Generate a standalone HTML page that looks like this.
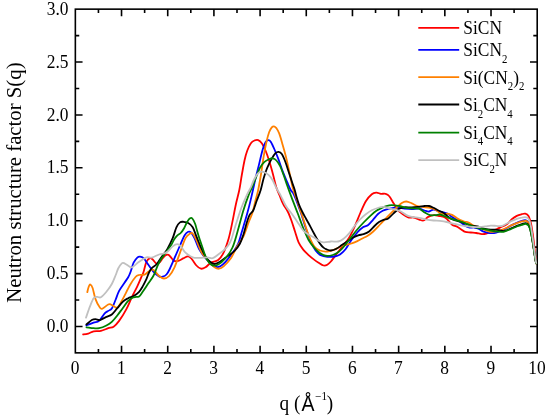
<!DOCTYPE html>
<html lang="en"><head><meta charset="utf-8"><title>Neutron structure factor S(q)</title>
<style>html,body{margin:0;padding:0;background:#fff}svg{display:block}</style></head>
<body>
<svg width="550" height="418" viewBox="0 0 550 418">
<rect width="550" height="418" fill="#fff"/>
<g stroke="#000" stroke-width="1.60" fill="none" stroke-linecap="butt">
<rect x="75.35" y="9.15" width="461.85" height="343.70"/>
<path d="M98.44 352.85v-3.90M98.44 9.15v3.90M121.53 352.85v-7.20M121.53 9.15v7.20M144.63 352.85v-3.90M144.63 9.15v3.90M167.72 352.85v-7.20M167.72 9.15v7.20M190.81 352.85v-3.90M190.81 9.15v3.90M213.91 352.85v-7.20M213.91 9.15v7.20M237.00 352.85v-3.90M237.00 9.15v3.90M260.09 352.85v-7.20M260.09 9.15v7.20M283.18 352.85v-3.90M283.18 9.15v3.90M306.27 352.85v-7.20M306.27 9.15v7.20M329.37 352.85v-3.90M329.37 9.15v3.90M352.46 352.85v-7.20M352.46 9.15v7.20M375.55 352.85v-3.90M375.55 9.15v3.90M398.64 352.85v-7.20M398.64 9.15v7.20M421.74 352.85v-3.90M421.74 9.15v3.90M444.83 352.85v-7.20M444.83 9.15v7.20M467.92 352.85v-3.90M467.92 9.15v3.90M491.02 352.85v-7.20M491.02 9.15v7.20M514.11 352.85v-3.90M514.11 9.15v3.90M75.35 326.50h7.20M537.20 326.50h-7.20M75.35 300.05h3.90M537.20 300.05h-3.90M75.35 273.61h7.20M537.20 273.61h-7.20M75.35 247.16h3.90M537.20 247.16h-3.90M75.35 220.72h7.20M537.20 220.72h-7.20M75.35 194.27h3.90M537.20 194.27h-3.90M75.35 167.82h7.20M537.20 167.82h-7.20M75.35 141.38h3.90M537.20 141.38h-3.90M75.35 114.93h7.20M537.20 114.93h-7.20M75.35 88.49h3.90M537.20 88.49h-3.90M75.35 62.04h7.20M537.20 62.04h-7.20M75.35 35.60h3.90M537.20 35.60h-3.90"/>
</g>
<g fill="none" stroke-width="1.8" stroke-linejoin="round" stroke-linecap="round">
<path stroke="#ff0000" d="M83.1 334.5C83.9 334.4 86.5 334.1 88.2 333.6C90.0 333.1 91.5 331.8 93.6 331.3C95.7 330.9 98.5 331.4 100.9 330.9C103.3 330.4 106.1 328.9 108.2 328.2C110.3 327.5 111.8 327.9 113.6 326.7C115.4 325.5 117.0 323.8 119.1 320.9C121.2 318.0 124.3 313.0 126.4 309.1C128.5 305.2 130.0 301.1 131.8 297.3C133.6 293.5 135.6 289.9 137.3 286.4C139.0 282.8 140.8 278.4 141.8 276.0C142.9 273.6 142.8 274.2 143.6 271.8C144.4 269.4 145.3 264.1 146.4 261.8C147.5 259.5 148.9 258.6 150.0 258.2C151.1 257.8 151.6 258.6 152.7 259.5C153.8 260.4 155.2 263.2 156.4 263.6C157.6 264.0 159.0 262.9 160.0 262.0C161.0 261.1 161.6 259.6 162.5 258.5C163.4 257.4 164.3 256.0 165.3 255.4C166.3 254.8 167.5 254.4 168.6 254.9C169.7 255.4 171.0 257.5 171.9 258.5C172.8 259.5 172.9 260.4 174.0 260.8C175.1 261.2 176.6 261.3 178.2 260.9C179.8 260.5 181.9 258.9 183.6 258.2C185.3 257.4 186.8 256.2 188.2 256.4C189.6 256.5 190.4 257.6 191.8 259.1C193.2 260.6 194.9 263.9 196.4 265.5C197.9 267.1 199.4 268.4 200.9 268.7C202.4 269.0 203.8 268.3 205.5 267.3C207.2 266.3 208.8 263.9 210.9 262.7C213.0 261.5 216.1 261.7 218.2 260.0C220.3 258.3 221.9 256.2 223.6 252.7C225.3 249.1 227.1 243.8 228.6 238.7C230.1 233.6 231.1 228.2 232.3 222.4C233.5 216.7 234.7 209.6 235.9 204.2C237.1 198.8 238.3 194.9 239.3 190.0C240.3 185.1 240.9 179.9 241.8 175.0C242.7 170.1 243.6 164.6 244.5 160.5C245.4 156.4 246.2 153.4 247.3 150.5C248.4 147.6 249.7 144.9 250.9 143.2C252.1 141.5 253.3 141.0 254.5 140.5C255.7 140.0 257.0 139.7 258.2 140.1C259.4 140.5 260.6 141.5 261.8 143.2C263.0 144.9 264.3 147.6 265.5 150.5C266.7 153.4 267.9 156.7 269.1 160.5C270.3 164.3 271.5 168.8 272.7 173.2C273.9 177.6 275.1 183.3 276.2 187.0C277.3 190.7 278.3 192.2 279.5 195.1C280.7 198.0 281.8 201.5 283.2 204.2C284.6 206.9 286.3 208.8 287.7 211.5C289.1 214.2 290.2 217.2 291.4 220.5C292.6 223.8 293.8 227.8 295.0 231.5C296.2 235.2 297.2 239.4 298.6 242.4C300.0 245.4 301.5 247.5 303.2 249.6C304.9 251.7 306.8 253.4 308.6 255.1C310.4 256.8 312.5 258.4 314.1 259.6C315.7 260.8 316.6 261.4 318.2 262.4C319.8 263.4 322.1 265.1 323.6 265.5C325.1 265.9 326.1 265.4 327.3 264.7C328.5 264.0 329.4 263.2 330.9 261.5C332.4 259.8 334.3 256.9 336.4 254.2C338.5 251.5 341.5 247.8 343.6 245.1C345.7 242.4 347.3 240.8 349.1 237.8C350.9 234.8 352.6 231.1 354.5 226.9C356.4 222.7 358.6 216.8 360.5 212.5C362.4 208.2 364.1 204.1 366.0 201.0C367.9 197.9 370.1 195.6 371.8 194.2C373.5 192.8 374.9 192.8 376.4 192.7C377.9 192.6 379.4 193.6 380.9 193.8C382.4 194.0 384.1 193.4 385.5 193.8C386.9 194.2 387.8 194.4 389.1 196.0C390.5 197.6 392.2 201.0 393.6 203.3C395.0 205.6 395.8 207.8 397.3 209.6C398.8 211.4 400.9 212.9 402.7 214.2C404.5 215.5 406.4 216.9 408.2 217.5C410.0 218.1 411.8 217.2 413.6 217.5C415.4 217.8 417.4 219.1 419.1 219.6C420.8 220.1 422.1 220.9 423.6 220.5C425.1 220.1 426.5 217.8 428.2 216.9C429.9 216.0 431.8 215.2 433.6 215.1C435.4 214.9 437.3 215.7 439.1 216.0C440.9 216.3 443.0 216.5 444.4 217.1C445.8 217.7 446.4 218.5 447.7 219.8C449.0 221.1 450.6 223.7 452.1 224.8C453.6 225.9 455.0 225.7 456.5 226.4C458.0 227.1 459.4 228.3 460.9 229.2C462.4 230.1 463.6 231.3 465.3 231.9C467.0 232.5 469.0 232.3 470.8 232.5C472.6 232.7 474.5 232.7 476.3 233.0C478.1 233.3 480.2 234.0 481.9 234.1C483.6 234.2 484.8 234.0 486.3 233.6C487.8 233.2 489.2 232.6 490.7 231.9C492.2 231.2 493.6 230.4 495.1 229.7C496.7 229.0 498.1 228.5 500.0 227.6C501.9 226.7 504.8 225.7 506.8 224.3C508.8 222.9 510.1 220.7 511.8 219.3C513.5 217.9 515.1 216.8 516.8 215.9C518.5 215.1 520.4 214.6 521.8 214.2C523.2 213.8 524.1 213.4 525.2 213.7C526.3 214.0 527.5 214.3 528.5 215.9C529.5 217.5 530.3 220.6 531.0 223.5C531.7 226.4 532.1 229.6 532.7 233.5C533.3 237.4 533.9 242.7 534.4 246.9C534.9 251.1 535.3 255.9 535.6 258.6C535.9 261.3 536.1 262.3 536.2 263.0"/>
<path stroke="#0000ff" d="M86.4 325.5C87.6 325.0 91.5 323.5 93.6 322.7C95.7 321.9 97.3 322.4 99.1 320.9C100.9 319.4 103.0 315.3 104.5 313.6C106.0 311.9 107.0 311.8 108.2 310.9C109.4 310.0 110.6 310.3 111.8 308.5C113.0 306.7 114.3 302.9 115.5 300.0C116.7 297.1 117.6 293.8 119.1 290.9C120.6 288.0 123.0 285.0 124.5 282.7C126.0 280.4 127.1 279.2 128.2 277.3C129.3 275.4 130.0 273.4 130.9 271.0C131.8 268.6 132.5 264.9 133.6 262.7C134.7 260.5 136.2 258.6 137.3 257.6C138.4 256.6 138.9 256.6 140.0 256.7C141.1 256.8 142.2 256.9 143.6 258.2C145.0 259.5 146.5 262.2 148.2 264.5C149.9 266.8 151.8 269.8 153.6 271.8C155.4 273.8 157.6 275.6 159.1 276.4C160.6 277.2 161.5 277.0 162.7 276.7C163.9 276.4 165.4 275.7 166.5 274.5C167.6 273.3 168.2 272.2 169.5 269.5C170.8 266.8 172.8 262.2 174.5 258.2C176.2 254.2 178.3 249.3 180.0 245.5C181.7 241.7 183.1 237.8 184.5 235.5C185.9 233.2 187.1 232.3 188.2 231.8C189.3 231.3 189.8 231.3 190.9 232.4C192.0 233.5 193.1 235.4 194.5 238.2C195.9 241.0 197.3 245.8 199.1 249.1C200.9 252.4 203.5 255.8 205.5 258.2C207.5 260.6 209.1 262.2 210.9 263.6C212.7 265.1 214.9 266.4 216.4 266.9C217.9 267.4 218.5 267.2 220.0 266.4C221.5 265.5 223.4 264.1 225.5 261.8C227.6 259.5 230.6 255.7 232.7 252.7C234.8 249.7 236.8 246.8 238.2 243.6C239.6 240.4 240.0 238.1 241.4 233.3C242.8 228.6 245.1 221.2 246.8 215.1C248.5 209.0 250.0 203.0 251.4 196.9C252.8 190.8 254.2 184.1 255.5 178.6C256.8 173.1 257.9 168.9 259.1 164.1C260.3 159.2 261.6 153.1 262.7 149.5C263.8 145.9 264.6 143.9 265.5 142.3C266.4 140.7 267.3 140.2 268.2 140.1C269.1 140.0 269.8 140.3 270.9 141.9C271.9 143.5 273.3 146.7 274.5 149.5C275.7 152.3 276.8 154.9 278.2 158.6C279.6 162.2 281.2 167.4 282.7 171.4C284.2 175.4 286.0 179.2 287.3 182.3C288.6 185.4 289.6 187.9 290.7 190.0C291.8 192.1 292.5 191.4 294.1 195.1C295.8 198.8 298.6 206.4 300.6 212.0C302.6 217.6 304.3 223.8 306.0 228.7C307.7 233.6 309.0 237.5 310.6 241.2C312.2 244.8 313.9 248.2 315.6 250.6C317.3 252.9 318.9 254.3 320.8 255.3C322.8 256.3 325.0 256.6 327.3 256.8C329.6 257.0 332.4 256.9 334.5 256.5C336.6 256.1 338.2 255.6 340.0 254.4C341.8 253.2 343.7 251.6 345.5 249.3C347.3 247.0 348.9 243.7 350.9 240.8C352.9 237.9 355.6 234.3 357.7 232.0C359.8 229.7 361.6 228.2 363.3 227.0C365.1 225.8 366.6 226.2 368.2 225.0C369.8 223.8 371.4 221.6 373.0 219.8C374.6 218.0 376.4 215.5 378.0 214.0C379.6 212.5 381.0 211.7 382.7 210.8C384.4 210.0 386.5 209.4 388.3 208.9C390.1 208.4 391.8 208.0 393.6 207.8C395.4 207.6 397.3 207.7 399.1 207.8C400.9 208.0 402.4 208.5 404.5 208.7C406.6 208.9 409.4 209.1 411.8 209.1C414.2 209.1 417.0 208.5 419.1 208.7C421.2 208.9 422.8 210.0 424.5 210.5C426.2 211.0 427.6 211.7 429.1 211.5C430.6 211.3 431.9 209.6 433.6 209.6C435.3 209.6 437.3 210.8 439.1 211.3C440.9 211.8 442.8 212.2 444.4 212.7C446.0 213.2 447.5 213.6 448.8 214.3C450.1 215.0 450.8 216.2 452.1 217.1C453.4 218.0 455.0 218.9 456.5 219.8C458.0 220.7 459.4 221.6 460.9 222.6C462.4 223.6 463.8 225.1 465.3 225.9C466.8 226.7 468.2 227.2 469.7 227.5C471.2 227.8 472.6 227.3 474.1 227.5C475.6 227.7 477.0 227.9 478.5 228.6C480.0 229.2 481.5 230.8 483.0 231.4C484.5 232.1 485.9 232.2 487.4 232.5C488.9 232.8 490.3 233.0 491.8 233.0C493.3 233.0 494.8 232.8 496.2 232.5C497.6 232.2 498.5 232.0 500.0 231.4C501.5 230.8 503.1 230.1 505.1 229.0C507.1 227.9 509.9 226.1 511.8 225.1C513.8 224.1 515.1 223.5 516.8 222.8C518.5 222.1 520.3 221.2 521.8 220.8C523.3 220.4 524.8 220.0 526.0 220.4C527.2 220.8 528.1 221.3 528.9 223.0C529.7 224.7 530.3 226.9 531.0 230.5C531.7 234.1 532.5 239.9 533.2 244.5C533.9 249.1 534.7 255.2 535.2 258.3C535.7 261.4 536.0 262.5 536.2 263.3"/>
<path stroke="#ff8000" d="M87.3 292.2C87.5 291.2 88.3 287.8 88.8 286.5C89.3 285.2 89.8 284.2 90.4 284.5C91.1 284.8 91.9 285.8 92.7 288.2C93.5 290.6 94.3 295.8 95.5 299.1C96.7 302.4 98.8 306.2 100.0 307.8C101.2 309.4 101.3 309.1 102.7 308.5C104.1 307.9 106.8 305.2 108.2 304.5C109.6 303.8 109.7 304.0 110.9 304.5C112.1 305.0 114.3 306.9 115.5 307.3C116.7 307.7 117.0 308.3 118.2 306.9C119.4 305.5 120.7 302.8 122.7 299.1C124.7 295.5 127.9 288.7 130.0 285.0C132.1 281.3 134.0 278.7 135.5 277.0C137.0 275.3 137.6 275.4 139.1 275.0C140.6 274.6 142.7 275.4 144.5 274.6C146.3 273.9 148.5 271.3 150.0 270.5C151.5 269.7 152.1 269.1 153.6 270.0C155.1 270.9 157.4 274.6 159.1 276.0C160.8 277.4 162.3 278.5 164.0 278.5C165.7 278.5 167.3 277.9 169.1 276.0C170.8 274.1 172.7 271.2 174.5 267.3C176.3 263.4 178.2 257.6 180.0 252.7C181.8 247.8 183.8 241.4 185.5 238.2C187.2 235.0 188.8 234.4 190.0 233.6C191.2 232.8 191.6 232.5 192.7 233.6C193.8 234.7 194.9 236.8 196.4 240.0C197.9 243.2 199.7 249.1 201.8 252.7C203.9 256.3 207.0 259.4 209.1 261.8C211.2 264.2 212.8 266.2 214.5 267.3C216.2 268.4 217.6 268.9 219.1 268.7C220.6 268.5 221.6 268.1 223.6 266.4C225.6 264.6 228.8 261.1 230.9 258.2C233.0 255.2 233.9 252.2 235.9 248.7C237.9 245.1 241.1 241.3 243.2 236.9C245.3 232.5 247.1 226.3 248.6 222.4C250.1 218.5 251.2 216.6 252.3 213.3C253.4 210.0 254.1 206.1 255.0 202.4C255.9 198.7 256.9 195.9 257.9 191.3C258.9 186.7 259.9 180.8 260.9 175.0C261.8 169.2 262.7 162.2 263.6 156.8C264.5 151.4 265.5 146.4 266.4 142.3C267.3 138.2 268.2 134.8 269.1 132.3C270.0 129.8 271.0 128.4 271.8 127.4C272.6 126.4 273.2 126.2 274.0 126.3C274.8 126.4 275.5 126.9 276.4 128.1C277.2 129.2 278.1 130.4 279.1 133.2C280.2 136.0 281.5 140.8 282.7 145.0C283.9 149.2 285.2 153.6 286.4 158.6C287.6 163.6 288.9 170.0 290.0 175.0C291.1 180.0 291.7 184.2 292.9 188.5C294.1 192.8 295.4 195.5 297.1 200.5C298.8 205.5 301.3 212.9 303.2 218.7C305.1 224.5 306.8 230.5 308.6 235.1C310.5 239.7 312.4 243.9 314.3 246.5C316.2 249.1 317.8 249.7 320.0 250.5C322.2 251.3 324.9 251.7 327.3 251.5C329.7 251.3 332.1 250.5 334.5 249.6C336.9 248.7 339.4 246.9 341.8 246.0C344.2 245.1 347.0 244.8 349.1 244.2C351.2 243.6 352.4 243.3 354.5 242.4C356.6 241.5 359.7 239.8 361.8 238.7C363.9 237.6 365.5 237.1 367.3 236.0C369.1 234.9 370.7 233.8 372.7 232.0C374.7 230.2 376.8 227.9 379.1 225.5C381.4 223.1 384.3 220.0 386.4 217.8C388.5 215.6 390.0 214.2 391.8 212.4C393.6 210.6 395.6 208.5 397.3 206.9C399.0 205.3 400.3 203.8 401.8 202.9C403.3 202.0 404.7 201.4 406.4 201.5C408.1 201.6 410.0 202.6 411.8 203.3C413.6 204.1 415.5 205.4 417.3 206.0C419.1 206.6 420.6 206.6 422.7 206.9C424.8 207.2 427.9 207.4 430.0 207.8C432.1 208.2 433.8 208.7 435.5 209.6C437.2 210.5 438.5 212.5 440.0 213.2C441.5 213.9 442.9 213.7 444.4 213.8C445.9 213.9 447.5 213.6 448.8 213.8C450.1 214.0 451.0 214.4 452.1 214.9C453.2 215.4 454.1 216.3 455.4 217.1C456.7 217.9 458.3 219.1 459.8 219.8C461.3 220.5 462.7 221.0 464.2 221.5C465.7 222.0 467.1 222.0 468.6 222.6C470.1 223.2 471.4 224.5 473.0 225.3C474.6 226.1 476.6 226.8 478.5 227.5C480.4 228.2 482.4 229.0 484.1 229.7C485.8 230.3 487.0 231.0 488.5 231.4C490.0 231.8 491.2 232.0 492.9 231.9C494.5 231.8 496.4 231.6 498.4 231.0C500.4 230.4 502.9 229.5 505.1 228.5C507.3 227.5 509.9 226.0 511.8 225.1C513.8 224.2 515.1 223.7 516.8 223.1C518.5 222.5 520.3 221.8 521.8 221.4C523.3 221.0 524.8 220.6 526.0 220.9C527.2 221.2 528.1 221.8 528.9 223.5C529.7 225.2 530.3 227.4 531.0 231.0C531.7 234.6 532.5 240.2 533.2 244.8C533.9 249.4 534.7 255.3 535.2 258.4C535.7 261.5 536.0 262.6 536.2 263.5"/>
<path stroke="#000000" d="M86.4 324.5C87.3 323.8 90.3 320.9 91.8 320.0C93.3 319.1 94.1 319.1 95.5 319.1C96.9 319.1 98.2 320.4 100.0 320.0C101.8 319.6 104.4 317.8 106.4 316.9C108.4 316.0 110.0 315.9 111.8 314.5C113.6 313.1 115.5 310.3 117.3 308.2C119.1 306.1 120.9 303.5 122.7 301.8C124.5 300.1 126.4 299.2 128.2 298.2C130.0 297.2 131.8 297.1 133.6 296.0C135.4 294.9 137.6 293.4 139.1 291.8C140.6 290.2 141.5 288.5 142.7 286.4C143.9 284.3 145.3 281.4 146.4 279.1C147.5 276.8 148.1 274.3 149.0 272.5C149.9 270.7 150.6 269.5 151.8 268.2C153.0 266.9 155.0 266.1 156.4 264.5C157.8 262.9 158.7 261.1 160.5 258.5C162.3 255.9 165.3 252.5 167.3 249.1C169.3 245.7 171.2 241.8 172.7 238.2C174.2 234.6 175.2 229.9 176.4 227.3C177.6 224.7 178.8 223.3 180.0 222.4C181.2 221.5 182.2 221.7 183.6 221.8C185.0 221.9 186.7 222.2 188.2 223.1C189.7 224.0 191.3 225.1 192.7 227.3C194.1 229.5 195.0 233.1 196.4 236.4C197.8 239.7 199.4 244.0 200.9 247.3C202.4 250.6 204.0 254.0 205.5 256.4C207.0 258.8 208.5 260.5 210.0 261.8C211.5 263.1 212.8 264.0 214.5 264.0C216.2 264.0 217.9 263.1 220.0 261.8C222.1 260.5 224.9 258.2 227.3 256.4C229.7 254.6 232.4 253.2 234.5 251.0C236.6 248.8 238.5 246.3 240.0 243.5C241.5 240.7 242.5 237.3 243.6 234.0C244.7 230.7 245.5 226.7 246.5 223.5C247.5 220.3 248.4 217.3 249.5 215.1C250.6 212.9 252.0 212.9 253.2 210.5C254.4 208.1 255.6 203.9 256.8 200.5C258.1 197.1 259.6 193.7 260.7 190.0C261.8 186.3 262.5 182.3 263.6 178.6C264.7 174.9 265.9 171.0 267.3 167.7C268.7 164.4 270.4 161.0 271.8 158.6C273.2 156.2 274.4 154.3 275.5 153.2C276.6 152.1 277.4 151.8 278.5 151.9C279.6 152.1 280.6 152.4 281.8 154.1C283.0 155.8 284.3 159.1 285.5 162.3C286.7 165.5 287.9 169.6 289.1 173.2C290.3 176.8 291.8 181.4 292.7 184.1C293.6 186.8 294.0 187.5 294.6 189.5C295.2 191.5 295.6 193.6 296.3 196.0C297.0 198.4 297.7 201.0 298.7 203.7C299.7 206.4 301.1 209.4 302.4 212.0C303.7 214.6 305.0 216.8 306.3 219.2C307.6 221.6 309.1 224.1 310.4 226.6C311.7 229.1 313.1 231.8 314.3 234.0C315.5 236.2 316.5 238.1 317.5 239.8C318.5 241.5 319.5 243.1 320.5 244.4C321.5 245.7 322.5 246.8 323.5 247.6C324.5 248.4 325.4 248.9 326.6 249.4C327.8 249.9 329.3 250.6 330.9 250.5C332.5 250.4 334.6 249.6 336.4 248.7C338.2 247.8 340.0 246.3 341.8 245.1C343.6 243.9 345.5 242.7 347.3 241.5C349.1 240.3 350.9 238.8 352.7 237.8C354.5 236.8 356.4 235.9 358.2 235.3C360.0 234.7 361.8 234.8 363.6 234.2C365.4 233.6 367.3 232.9 369.1 231.5C370.9 230.1 372.9 227.6 374.5 226.0C376.1 224.4 377.5 223.0 379.0 222.0C380.5 221.0 382.0 220.4 383.5 219.8C385.0 219.2 386.5 219.6 388.2 218.5C389.9 217.4 391.8 214.9 393.6 213.3C395.4 211.7 397.3 209.7 399.1 208.7C400.9 207.7 402.4 207.5 404.5 207.3C406.6 207.1 409.4 207.5 411.8 207.4C414.2 207.3 417.0 207.0 419.1 206.8C421.2 206.6 422.8 206.1 424.5 206.0C426.2 205.9 427.6 205.7 429.1 206.0C430.6 206.3 432.1 207.1 433.6 207.8C435.1 208.5 436.4 209.5 438.0 210.3C439.6 211.1 441.9 211.8 443.3 212.7C444.7 213.5 445.3 214.4 446.6 215.4C447.9 216.4 449.5 217.9 451.0 218.7C452.5 219.5 453.9 219.9 455.4 220.4C456.9 220.9 458.3 221.1 459.8 221.5C461.3 221.9 462.7 222.5 464.2 223.1C465.7 223.7 467.1 224.3 468.6 224.8C470.1 225.3 471.5 225.6 473.0 225.9C474.5 226.2 475.9 226.0 477.4 226.4C478.9 226.8 480.4 227.6 481.9 228.1C483.4 228.6 484.8 228.9 486.3 229.2C487.8 229.5 489.2 229.6 490.7 229.7C492.2 229.8 493.6 229.6 495.1 229.7C496.7 229.8 498.5 230.1 500.0 230.3C501.5 230.5 502.3 231.2 504.0 231.0C505.7 230.8 508.0 229.7 510.1 228.8C512.2 227.9 514.8 226.6 516.8 225.8C518.8 225.0 520.3 224.4 521.8 224.0C523.3 223.6 524.8 222.8 526.0 223.1C527.2 223.3 528.1 223.9 528.9 225.5C529.7 227.1 530.3 229.2 531.0 232.5C531.7 235.8 532.5 240.8 533.2 245.2C533.9 249.5 534.7 255.6 535.2 258.6C535.7 261.6 536.0 262.5 536.2 263.3"/>
<path stroke="#008000" d="M86.4 327.3C87.6 327.4 91.5 328.1 93.6 328.2C95.7 328.3 97.0 328.6 99.1 328.2C101.2 327.8 104.3 326.6 106.4 325.5C108.5 324.4 110.0 323.5 111.8 321.8C113.6 320.1 115.5 317.8 117.3 315.5C119.1 313.2 120.9 310.6 122.7 308.2C124.5 305.8 126.4 302.7 128.2 300.9C130.0 299.1 131.8 298.1 133.6 297.3C135.4 296.6 137.6 297.3 139.1 296.4C140.6 295.5 141.2 293.9 142.7 291.8C144.2 289.7 146.4 286.3 148.2 283.6C150.0 280.9 152.1 278.4 153.6 275.5C155.1 272.6 156.1 269.1 157.3 266.4C158.5 263.7 159.6 261.5 160.9 259.3C162.2 257.1 163.7 255.6 165.3 253.3C167.0 251.0 169.3 247.9 170.8 245.6C172.3 243.3 173.0 241.1 174.1 239.4C175.2 237.7 176.3 236.5 177.4 235.4C178.5 234.3 179.6 234.2 180.7 233.0C181.8 231.8 183.0 230.1 184.1 228.2C185.2 226.3 186.4 223.2 187.4 221.6C188.4 219.9 189.3 218.8 190.1 218.3C190.9 217.8 191.5 217.6 192.3 218.5C193.1 219.4 194.3 221.6 195.1 223.8C195.9 226.0 196.5 228.8 197.3 231.5C198.1 234.2 199.2 238.0 200.0 240.3C200.8 242.6 200.9 242.8 201.8 245.5C202.7 248.2 204.3 253.5 205.5 256.4C206.7 259.3 207.9 261.2 209.1 262.7C210.3 264.2 211.2 265.2 212.7 265.5C214.2 265.8 216.1 265.7 218.2 264.5C220.3 263.3 223.1 261.0 225.5 258.2C227.9 255.4 230.5 252.0 232.5 247.5C234.5 243.0 235.9 237.1 237.7 231.0C239.5 224.9 241.4 217.0 243.2 211.0C245.0 205.0 247.0 199.2 248.6 195.1C250.2 191.0 251.3 189.2 252.5 186.5C253.7 183.8 254.2 181.7 255.5 178.6C256.8 175.5 258.5 170.5 260.0 167.7C261.5 164.9 263.0 163.3 264.5 161.9C266.0 160.5 267.7 159.8 269.1 159.2C270.5 158.6 271.5 158.1 272.7 158.3C273.9 158.5 275.2 159.2 276.4 160.5C277.6 161.8 278.8 163.5 280.0 165.9C281.2 168.3 282.4 171.7 283.6 175.0C284.8 178.3 285.9 181.8 287.2 185.5C288.5 189.2 289.6 192.3 291.4 196.9C293.1 201.5 295.7 208.1 297.7 213.3C299.7 218.5 301.4 223.6 303.2 228.0C305.0 232.4 306.8 236.8 308.6 240.0C310.4 243.2 312.3 245.4 314.1 247.5C315.9 249.6 317.9 251.4 319.5 252.7C321.1 253.9 322.2 254.5 323.5 255.0C324.8 255.5 325.8 255.9 327.3 255.9C328.9 255.9 331.2 255.5 332.8 255.0C334.4 254.5 335.5 254.0 337.0 253.0C338.5 252.0 339.8 251.2 341.8 249.0C343.8 246.8 346.7 243.1 349.1 240.0C351.5 236.9 354.0 233.4 356.4 230.5C358.8 227.6 361.2 225.0 363.6 222.5C366.0 220.0 368.8 217.2 370.9 215.3C373.0 213.4 374.6 212.0 376.4 210.8C378.2 209.6 380.1 208.8 381.8 208.0C383.5 207.2 384.7 206.5 386.4 206.0C388.1 205.5 389.7 205.1 391.8 205.1C393.9 205.1 396.7 205.6 399.1 206.0C401.5 206.4 404.0 207.4 406.4 207.8C408.8 208.2 411.5 208.2 413.6 208.4C415.7 208.6 417.3 208.0 419.1 208.7C420.9 209.4 422.7 211.3 424.5 212.4C426.3 213.5 428.2 214.7 430.0 215.1C431.8 215.5 433.8 215.2 435.5 215.1C437.2 215.0 438.3 214.3 440.0 214.5C441.7 214.7 443.7 215.8 445.5 216.5C447.3 217.2 449.2 218.0 451.0 218.7C452.8 219.3 454.7 219.8 456.5 220.4C458.3 221.0 460.2 221.4 462.0 222.0C463.8 222.6 465.7 223.5 467.5 224.2C469.3 224.9 471.2 225.8 473.0 226.4C474.8 227.1 476.6 227.6 478.5 228.1C480.4 228.6 482.2 228.8 484.1 229.2C486.0 229.6 487.8 229.9 489.6 230.3C491.4 230.7 493.4 231.2 495.1 231.4C496.8 231.6 498.6 231.5 500.0 231.6C501.4 231.7 501.7 232.2 503.4 231.8C505.1 231.4 507.9 230.2 510.1 229.3C512.3 228.4 514.8 227.2 516.8 226.5C518.8 225.8 520.3 225.2 521.8 224.8C523.3 224.4 524.8 223.8 526.0 224.0C527.2 224.2 528.1 224.6 528.9 226.0C529.7 227.4 530.3 229.5 531.0 232.7C531.7 235.9 532.5 240.9 533.2 245.2C533.9 249.5 534.7 255.6 535.2 258.6C535.7 261.6 536.0 262.5 536.2 263.3"/>
<path stroke="#c0c0c0" d="M86.0 317.6C86.7 315.7 88.7 309.6 90.0 306.4C91.3 303.2 92.4 299.8 93.6 298.2C94.8 296.6 96.1 297.0 97.3 296.9C98.5 296.8 99.4 298.1 100.9 297.3C102.4 296.5 104.6 294.0 106.4 291.8C108.2 289.6 110.3 286.7 111.8 284.0C113.3 281.3 114.4 278.1 115.5 275.5C116.6 272.9 117.2 270.5 118.2 268.5C119.2 266.5 120.8 264.2 121.8 263.3C122.8 262.4 123.1 262.7 124.5 263.3C125.9 263.9 128.6 266.3 130.0 266.9C131.4 267.5 131.2 267.8 132.7 266.9C134.2 266.0 136.8 263.4 139.1 261.8C141.4 260.2 144.3 258.0 146.4 257.3C148.5 256.6 149.7 258.1 151.8 257.6C153.9 257.1 157.1 255.2 159.1 254.5C161.1 253.8 162.6 253.9 164.0 253.5C165.4 253.1 165.9 253.0 167.3 251.8C168.8 250.6 171.0 247.7 172.7 246.4C174.4 245.1 175.9 244.2 177.3 244.2C178.7 244.2 179.5 245.0 180.9 246.4C182.3 247.8 183.5 250.9 185.5 252.7C187.5 254.5 190.3 256.4 192.7 257.3C195.1 258.2 197.6 257.8 200.0 257.8C202.4 257.8 205.2 257.2 207.3 257.3C209.4 257.4 210.9 258.7 212.7 258.2C214.5 257.7 216.4 255.8 218.2 254.5C220.0 253.2 221.9 251.8 223.6 250.3C225.3 248.8 226.9 247.4 228.2 245.5C229.5 243.6 230.2 242.6 231.5 239.0C232.8 235.4 234.2 229.4 235.9 224.2C237.6 219.0 239.6 212.7 241.4 207.8C243.2 203.0 245.2 198.6 246.8 195.1C248.4 191.6 249.9 189.4 251.0 187.0C252.1 184.6 252.5 182.7 253.6 180.5C254.7 178.3 256.1 175.6 257.3 174.1C258.5 172.6 259.7 172.0 260.9 171.7C262.1 171.4 263.2 171.7 264.5 172.3C265.8 172.9 267.4 173.8 268.8 175.2C270.2 176.6 271.6 178.4 272.8 180.5C274.0 182.6 274.9 185.3 276.2 187.7C277.5 190.1 278.9 192.0 280.5 195.1C282.1 198.2 284.1 203.0 285.9 206.0C287.7 209.0 289.4 210.6 291.4 213.3C293.4 216.0 295.7 219.5 297.7 222.4C299.7 225.3 301.4 228.5 303.2 230.5C305.0 232.5 306.8 233.3 308.6 234.5C310.4 235.7 312.5 236.5 314.1 237.5C315.7 238.5 316.6 239.7 318.2 240.5C319.8 241.3 321.5 242.2 323.6 242.4C325.7 242.6 328.5 241.7 330.9 241.5C333.3 241.3 336.1 242.0 338.2 241.5C340.3 241.0 341.8 240.1 343.6 238.7C345.4 237.3 347.3 235.4 349.1 233.3C350.9 231.2 352.7 228.3 354.5 226.0C356.3 223.7 358.2 221.4 360.0 219.5C361.8 217.6 363.5 216.0 365.5 214.5C367.5 213.0 369.5 211.5 371.8 210.3C374.1 209.1 377.1 208.1 379.1 207.5C381.1 206.9 381.8 206.7 383.6 206.9C385.4 207.1 388.0 208.2 390.0 208.7C392.0 209.1 393.7 209.1 395.5 209.6C397.3 210.1 399.1 210.6 400.9 211.5C402.7 212.4 404.6 214.2 406.4 215.1C408.2 216.0 409.7 216.4 411.8 216.9C413.9 217.4 416.7 217.4 419.1 217.8C421.5 218.2 424.0 219.2 426.4 219.6C428.8 220.0 431.3 220.3 433.6 220.5C435.9 220.7 437.8 220.7 440.0 220.9C442.2 221.2 444.4 221.5 446.6 222.0C448.8 222.5 451.0 223.2 453.2 223.7C455.4 224.2 457.6 224.7 459.8 225.1C462.0 225.5 464.2 225.9 466.4 226.2C468.6 226.5 470.8 226.9 473.0 227.0C475.2 227.1 477.6 227.1 479.6 227.0C481.6 226.9 483.4 226.6 485.2 226.4C487.0 226.2 488.9 225.7 490.7 225.6C492.5 225.5 494.4 225.8 496.2 225.9C498.0 226.0 499.9 226.4 501.7 226.0C503.5 225.6 505.1 224.3 506.8 223.5C508.5 222.7 510.1 221.7 511.8 220.9C513.5 220.1 515.1 219.4 516.8 218.8C518.5 218.2 520.3 217.8 521.8 217.6C523.3 217.3 524.8 217.0 526.0 217.3C527.2 217.6 528.1 217.7 528.9 219.3C529.7 220.9 530.3 223.0 531.0 226.8C531.7 230.6 532.5 236.9 533.2 241.9C533.9 246.9 534.7 253.5 535.2 257.0C535.7 260.5 536.0 262.0 536.2 263.0"/>
</g>
<g font-family="'Liberation Serif', 'Times New Roman', serif" fill="#000">
<text transform="translate(75.15 373.90) scale(1 1.085)" font-size="17.4" text-anchor="middle">0</text>
<text transform="translate(121.33 373.90) scale(1 1.085)" font-size="17.4" text-anchor="middle">1</text>
<text transform="translate(167.52 373.90) scale(1 1.085)" font-size="17.4" text-anchor="middle">2</text>
<text transform="translate(213.71 373.90) scale(1 1.085)" font-size="17.4" text-anchor="middle">3</text>
<text transform="translate(259.89 373.90) scale(1 1.085)" font-size="17.4" text-anchor="middle">4</text>
<text transform="translate(306.07 373.90) scale(1 1.085)" font-size="17.4" text-anchor="middle">5</text>
<text transform="translate(352.26 373.90) scale(1 1.085)" font-size="17.4" text-anchor="middle">6</text>
<text transform="translate(398.44 373.90) scale(1 1.085)" font-size="17.4" text-anchor="middle">7</text>
<text transform="translate(444.63 373.90) scale(1 1.085)" font-size="17.4" text-anchor="middle">8</text>
<text transform="translate(490.82 373.90) scale(1 1.085)" font-size="17.4" text-anchor="middle">9</text>
<text transform="translate(537.00 373.90) scale(1 1.085)" font-size="17.4" text-anchor="middle">10</text>
<text transform="translate(68.45 332.16) scale(1 1.085)" font-size="17.4" text-anchor="end">0.0</text>
<text transform="translate(68.45 279.27) scale(1 1.085)" font-size="17.4" text-anchor="end">0.5</text>
<text transform="translate(68.45 226.38) scale(1 1.085)" font-size="17.4" text-anchor="end">1.0</text>
<text transform="translate(68.45 173.48) scale(1 1.085)" font-size="17.4" text-anchor="end">1.5</text>
<text transform="translate(68.45 120.59) scale(1 1.085)" font-size="17.4" text-anchor="end">2.0</text>
<text transform="translate(68.45 67.70) scale(1 1.085)" font-size="17.4" text-anchor="end">2.5</text>
<text transform="translate(68.45 14.81) scale(1 1.085)" font-size="17.4" text-anchor="end">3.0</text>
<text id="ytitle" transform="translate(21.3 182.6) rotate(-90) scale(0.980 1)" font-size="21.2" text-anchor="middle">Neutron structure factor S(q)</text>
<text transform="translate(279.50 410.20) scale(1 1.100)" font-size="19.3" text-anchor="start" id="xtitle">q (<tspan x="22.1" dy="0.55" font-family="'Liberation Sans', Arial, sans-serif" font-size="19.5">Å</tspan><tspan x="35.7" dy="-9.09" font-size="11.2">−</tspan><tspan x="41.9" dy="-1" font-size="11.2">1</tspan><tspan x="47.2" dy="9.54">)</tspan></text>
<path d="M418.3 27.9H459.2" stroke="#ff0000" stroke-width="1.8" fill="none"/>
<text transform="translate(463.30 33.60) scale(1 1.130)" font-size="17.4" text-anchor="start">SiCN</text>
<path d="M418.3 49.9H459.2" stroke="#0000ff" stroke-width="1.8" fill="none"/>
<text transform="translate(463.30 56.40) scale(1 1.130)" font-size="17.4" text-anchor="start">SiCN<tspan font-size="10.8" dy="5.6">2</tspan></text>
<path d="M418.3 77.1H459.2" stroke="#ff8000" stroke-width="1.8" fill="none"/>
<text transform="translate(463.30 83.90) scale(1 1.130)" font-size="17.4" text-anchor="start">Si(CN<tspan font-size="10.8" dy="5.6">2</tspan><tspan dy="-5.6">)</tspan><tspan font-size="10.8" dy="5.6">2</tspan></text>
<path d="M418.3 104.5H459.2" stroke="#000000" stroke-width="1.8" fill="none"/>
<text transform="translate(463.30 111.30) scale(1 1.130)" font-size="17.4" text-anchor="start">Si<tspan font-size="10.8" dy="5.6">2</tspan><tspan dy="-5.6">CN</tspan><tspan font-size="10.8" dy="5.6">4</tspan></text>
<path d="M418.3 132.6H459.2" stroke="#008000" stroke-width="1.8" fill="none"/>
<text transform="translate(463.30 139.10) scale(1 1.130)" font-size="17.4" text-anchor="start">Si<tspan font-size="10.8" dy="5.6">4</tspan><tspan dy="-5.6">CN</tspan><tspan font-size="10.8" dy="5.6">4</tspan></text>
<path d="M418.3 160.1H459.2" stroke="#c0c0c0" stroke-width="1.8" fill="none"/>
<text transform="translate(463.30 166.30) scale(1 1.130)" font-size="17.4" text-anchor="start">SiC<tspan font-size="10.8" dy="5.6">2</tspan><tspan dy="-5.6">N</tspan></text>
</g>
</svg>
</body></html>
